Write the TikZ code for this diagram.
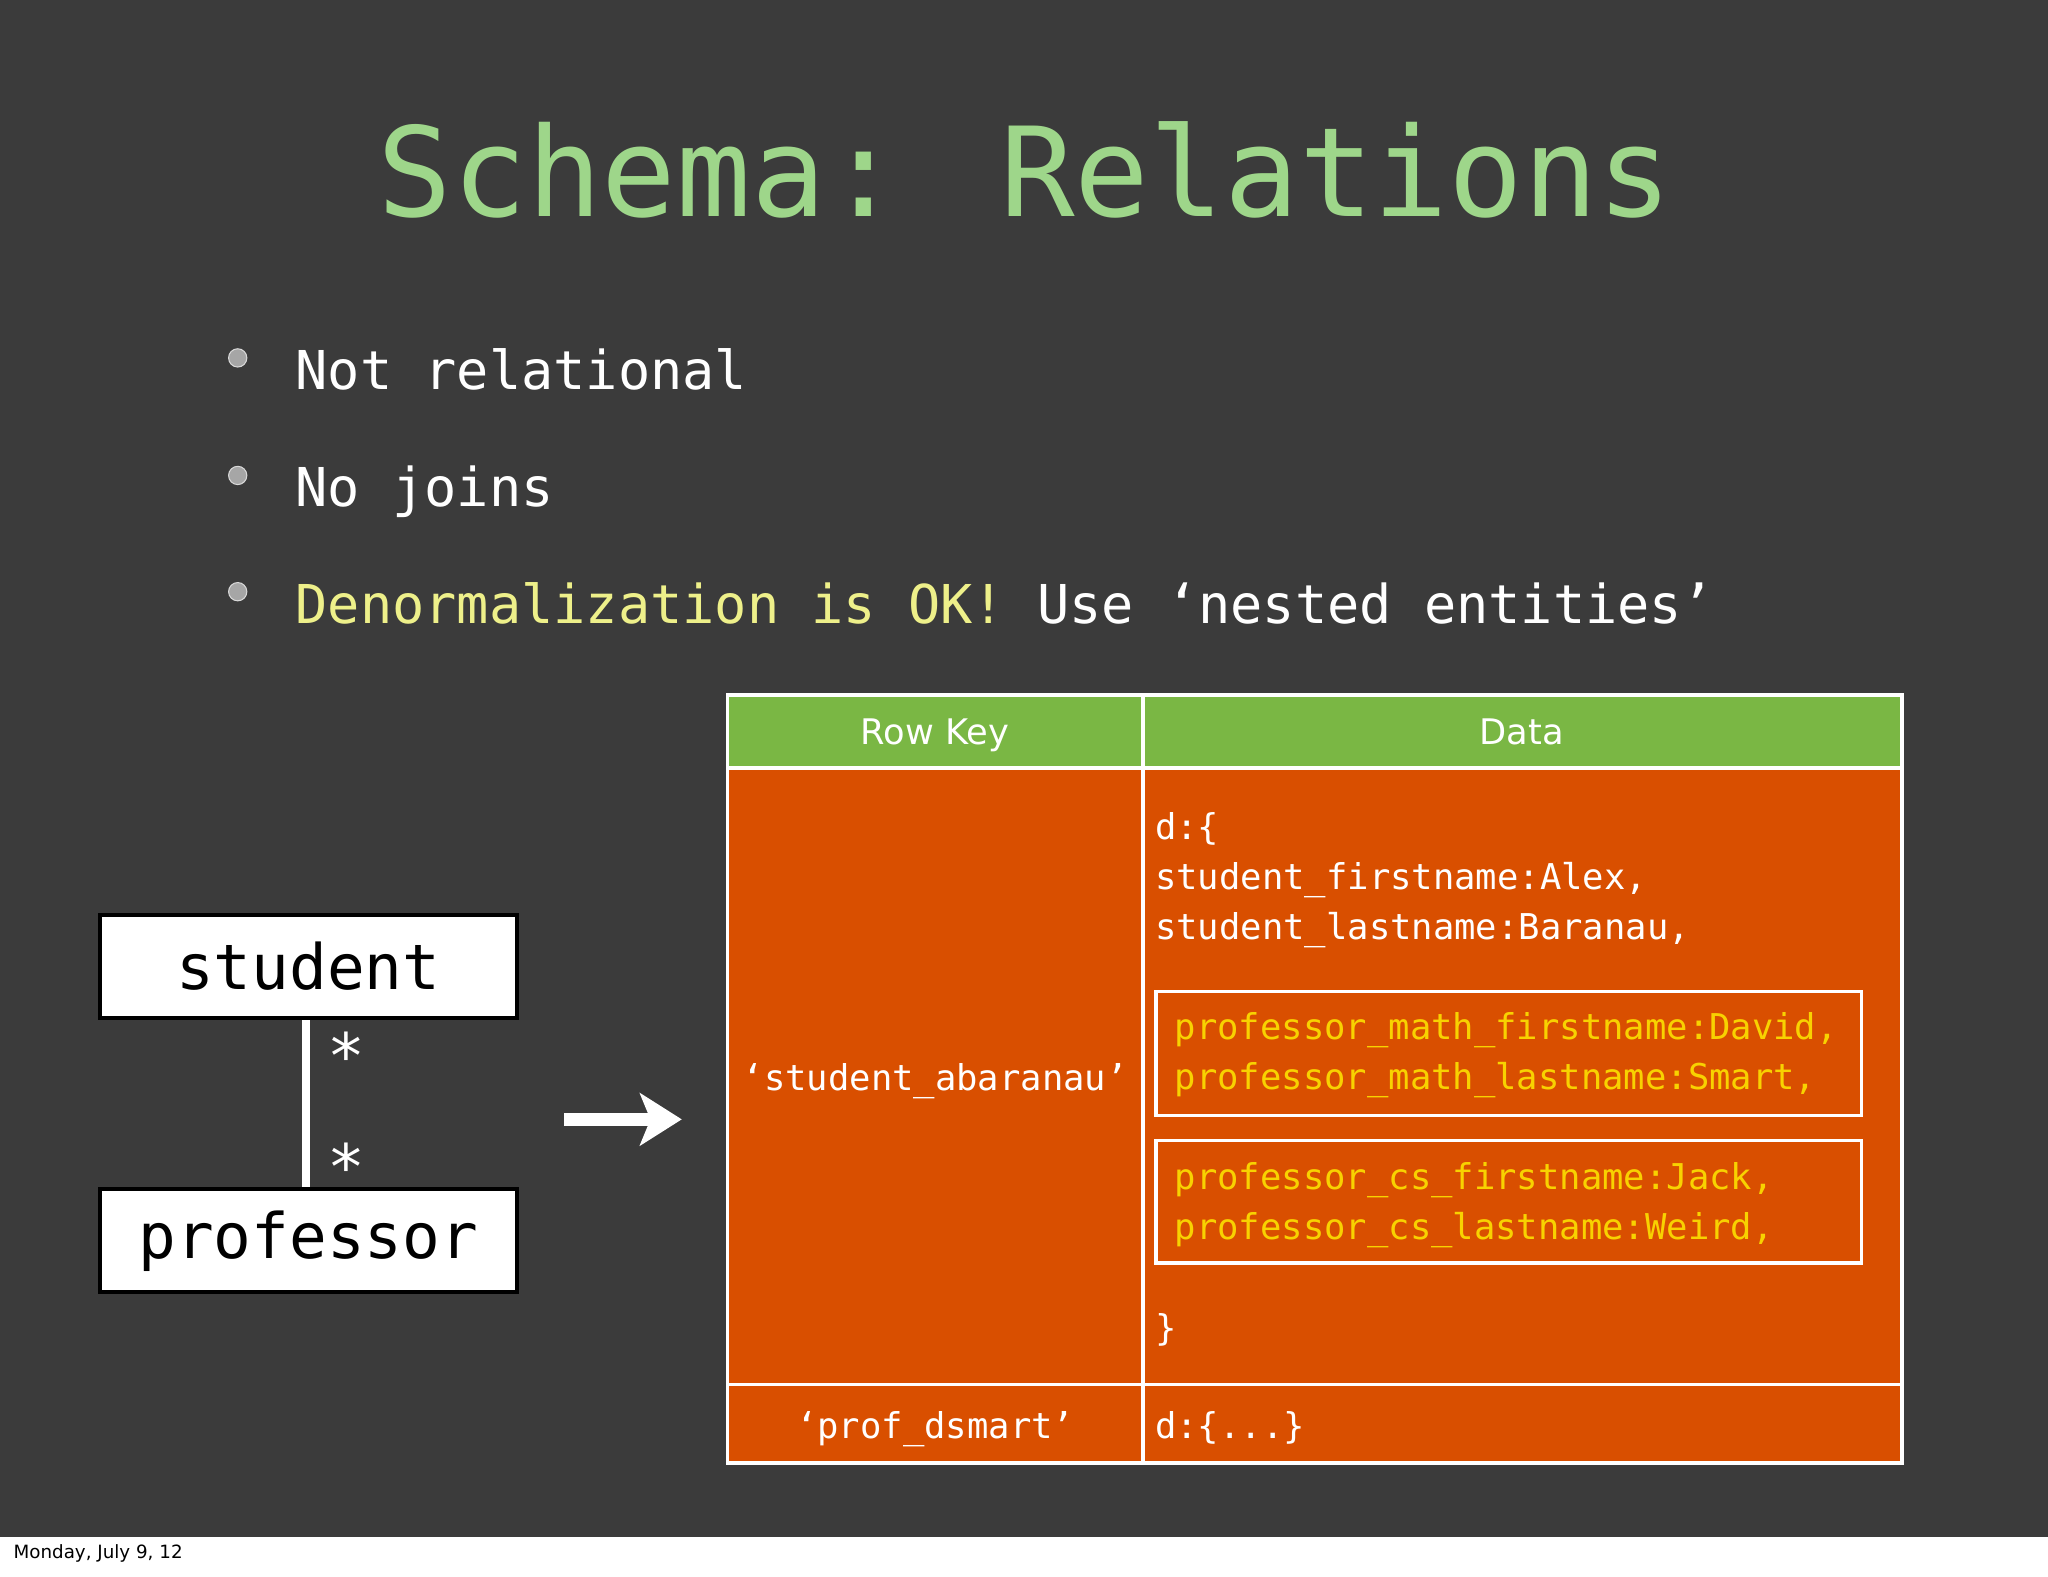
\documentclass[tikz,border=0pt]{standalone}
\usepackage{fontspec}
\setmainfont{DejaVu Sans}
\newfontfamily\mono{DejaVu Sans Mono}
\usetikzlibrary{arrows.meta}
\definecolor{bg}{HTML}{3B3B3B}
\definecolor{ttl}{HTML}{9ED68A}
\definecolor{yel}{HTML}{EEF08A}
\definecolor{hdr}{HTML}{7AB744}
\definecolor{org}{HTML}{D94F00}
\definecolor{pyel}{HTML}{F8D200}
\tikzset{
 cell/.style={draw=white,line width=1.5pt},
 bul/.style={font=\mono\fontsize{20.5}{24}\selectfont,text=white,anchor=base west,inner sep=0},
 dat/.style={font=\mono\fontsize{13.6}{19}\selectfont,text=white,anchor=base west,inner sep=0},
 pdat/.style={font=\mono\fontsize{13.6}{19}\selectfont,text=pyel,anchor=base west,inner sep=0},
 hd/.style={text=white,font=\fontsize{13.5}{16}\selectfont,anchor=base,inner sep=0},
 ent/.style={draw=black,line width=1.5pt,fill=white,minimum width=159.5pt,minimum height=39.5pt,font=\mono\fontsize{24}{28}\selectfont,inner sep=0},
 pin/.style={circle,fill=gray!70,draw=gray!30,minimum size=7pt,inner sep=0}
}
\begin{document}
\begin{tikzpicture}[x=0.5pt,y=-0.5pt]
\useasboundingbox (0,0) rectangle (1568,1207);
\fill[bg] (0,0) rectangle (1568,1177);
\fill[white] (0,1177) rectangle (1568,1207);
\node[anchor=base west,inner sep=0,font=\fontsize{7}{8}\selectfont] (date) at (10,1193) {Monday, July 9, 12};
\node[font=\mono\fontsize{47.5}{56}\selectfont,text=ttl,anchor=base,inner sep=0] (title) at (785,166) {Schema: Relations};
\node[pin] (p1) at (182,274) {};
\node[pin] (p2) at (182,364) {};
\node[pin] (p3) at (182,453) {};
\node[bul] (b1) at (226,298) {Not relational};
\node[bul] (b2) at (226,388) {No joins};
\node[bul] (b3) at (226,477) {\textcolor{yel}{Denormalization is OK!} Use ‘nested entities’};
% table
\fill[hdr] (557,532) rectangle (1456,588);
\fill[org] (557,588) rectangle (1456,1120);
\draw[cell] (557,532) rectangle (1456,1120);
\draw[cell] (875,532) -- (875,1120);
\draw[cell] (557,588) -- (1456,588);
\draw[cell] (557,1060) -- (1456,1060);
\node[hd] (rk) at (716,570) {Row Key};
\node[hd] (dh) at (1165,570) {Data};
\node[dat,anchor=base] (k1) at (716,835) {‘student\_abaranau’};
\node[dat,anchor=base] (k2) at (716,1101) {‘prof\_dsmart’};
\node[dat] (d1) at (884,643) {d:\{};
\node[dat] (d2) at (884,681) {student\_firstname:Alex,};
\node[dat] (d3) at (884,719) {student\_lastname:Baranau,};
\draw[white,line width=1.2pt] (885,759) rectangle (1425,854);
\draw[white,line width=1.2pt] (885,873) rectangle (1425,967);
\node[pdat] (q1) at (899,796) {professor\_math\_firstname:David,};
\node[pdat] (q2) at (899,834) {professor\_math\_lastname:Smart,};
\node[pdat] (q3) at (899,911) {professor\_cs\_firstname:Jack,};
\node[pdat] (q4) at (899,949) {professor\_cs\_lastname:Weird,};
\node[dat] (d4) at (884,1026) {\}};
\node[dat] (d5) at (884,1101) {d:\{...\}};
% entities
\node[ent] (stu) at (236,740) {student};
\node[ent] (prof) at (236,950) {professor};
\draw[white,line width=3pt] (stu.south) ++(-2,0) coordinate (c1) -- (c1 |- prof.north);
\node[text=white,font=\mono\fontsize{24}{28}\selectfont] (a1) at (265,808) {*};
\node[text=white,font=\mono\fontsize{24}{28}\selectfont] (a2) at (265,893) {*};
\coordinate (arS) at (432,857);
\coordinate (arE) at (522,857);
\draw[white,line width=5pt,-{Stealth[length=16pt,width=20pt,inset=4pt]}] (arS) -- (arE);
\end{tikzpicture}
\end{document}
